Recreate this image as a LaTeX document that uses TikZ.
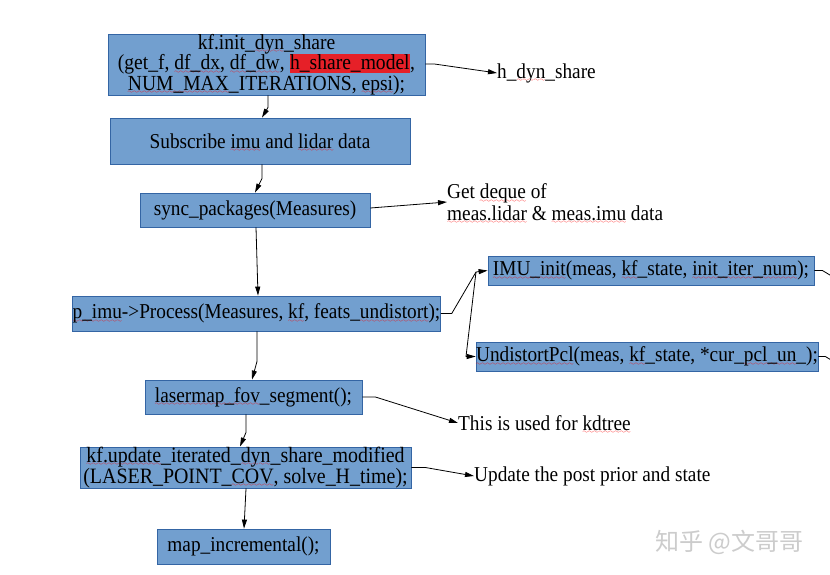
\documentclass[tikz,border=0pt]{standalone}
\usepackage{fontspec}
\setmainfont[FakeStretch=0.91]{Liberation Serif}
\newfontfamily\cjk{Noto Sans CJK SC}
\usetikzlibrary{arrows.meta}
\definecolor{boxfill}{RGB}{114,159,207}
\definecolor{boxline}{RGB}{52,101,164}
\definecolor{hlred}{RGB}{230,32,40}
\font\wavyfont=lasy6
\newcommand\sq[1]{\leavevmode\setbox0\hbox{#1}\rlap{\raisebox{-3.5pt}[0pt][0pt]{\color{red}\hbox to \wd0{\xleaders\hbox{\wavyfont\char58}\hfill}}}\box0\relax}
\tikzset{
  box/.style={draw=boxline, line width=0.8pt, fill=boxfill, align=center, inner sep=0pt,
    font=\fontsize{21.2}{20.5}\selectfont},
  lbl/.style={anchor=west, inner sep=0pt, align=left, font=\fontsize{21.2}{21.5}\selectfont},
  arr/.style={draw=black, line width=0.8pt, -{Triangle[length=9pt,width=5pt]}},
  ln/.style={draw=black, line width=0.8pt}
}
\begin{document}
\begin{tikzpicture}[x=1pt,y=-1pt]
\useasboundingbox[fill=white] (0,0) rectangle (830,575);
% boxes
\node[box, minimum width=317pt, minimum height=61pt, font=\fontsize{21.5}{20.6}\selectfont] (b1) at (266.5,64.5)
  {kf.init\_\sq{dyn}\_share\\(get\_f, \sq{df\_dx}, \sq{df\_dw}, {\setlength\fboxsep{0.5pt}\colorbox{hlred}{h\_share\_model}},\\\sq{NUM\_MAX}\_ITERATIONS, \sq{epsi});};
\node[box, minimum width=300pt, minimum height=46pt] (b2) at (260,141)
  {Subscribe \sq{imu} and \sq{lidar} data};
\node[box, minimum width=230pt, minimum height=34pt] (b3) at (255,210)
  {sync\_packages(Measures)};
\node[box, minimum width=367pt, minimum height=35pt] (b4) at (256.5,313.5)
  {\sq{p\_imu}->Process(Measures, \sq{kf}, feats\_\sq{undistort});};
\node[box, minimum width=326pt, minimum height=29pt] (b5) at (651,270.5)
  {\sq{IMU\_init}(meas, \sq{kf}\_state, \sq{init\_iter\_num});};
\node[box, minimum width=338pt, minimum height=29pt] (b6) at (647,356.5)
  {\sq{UndistortPcl}(meas, \sq{kf}\_state, *cur\_\sq{pcl\_un}\_);};
\node[box, minimum width=217pt, minimum height=34pt] (b7) at (253.5,397)
  {\sq{lasermap\_fov}\_segment();};
\node[box, minimum width=331pt, minimum height=39pt, font=\fontsize{21.9}{21}\selectfont] (b8) at (245.5,467.5)
  {\sq{kf.update}\_iterated\_\sq{dyn}\_share\_modified\\(LASER\_POINT\_\sq{COV}, solve\_H\_time);};
\node[box, minimum width=173pt, minimum height=35pt] (b9) at (243.5,546.5)
  {map\_incremental();};
% side labels
\node[lbl] (t1) at (497,73) {h\_\sq{dyn}\_share};
\node[lbl] (t2) at (447,202) {Get \sq{deque} of\\\sq{meas.lidar} \& \sq{meas.imu} data};
\node[lbl] (t3) at (458,423) {This is used for \sq{kdtree}};
\node[lbl] (t4) at (474,476) {Update the post prior and state};
\node[anchor=west, inner sep=0pt, text=black!20, font=\cjk\fontsize{24}{26}\selectfont] (wm) at (655,542) {知乎 @文哥哥};
% main flow
\draw[arr] ([xshift=1.5pt]b1.south) -- ++(0,12) -- ([xshift=2pt]b2.north);
\draw[arr] ([xshift=2pt]b2.south) -- ++(0,14) -- (b3.north);
\draw[arr] ([xshift=1pt]b3.south) -- ([xshift=1.5pt]b4.north);
\draw[arr] ([xshift=0.5pt]b4.south) -- ++(0,30) -- ([xshift=-1.5pt]b7.north);
\draw[arr] ([xshift=-7.5pt]b7.south) -- ++(0,18) -- ([xshift=-5.5pt]b8.north);
\draw[arr] ([xshift=0.5pt]b8.south) -- ([xshift=0.5pt]b9.north);
% side connectors
\draw[arr] ([yshift=0.5pt]b1.east) -- ++(9,0) -- (t1.west);
\draw[arr] ([yshift=2pt]b3.east) -- (t2.west);
\coordinate (fork) at (476,272);
\draw[ln] (b4.east) -- ++(11,0) -- (fork);
\draw[arr] (fork) -- (b5.west);
\draw[arr] (fork) -- (466,356.5) -- (b6.west);
\draw[ln] (b5.east) -- ++(8,0) -- ++(10,6);
\draw[ln] (b6.east) -- ++(7,0) -- ++(10,6);
\draw[arr] (b7.east) -- ++(13,0) -- (t3.west);
\draw[arr] (b8.east) -- ++(14,0) -- (t4.west);
\end{tikzpicture}
\end{document}
